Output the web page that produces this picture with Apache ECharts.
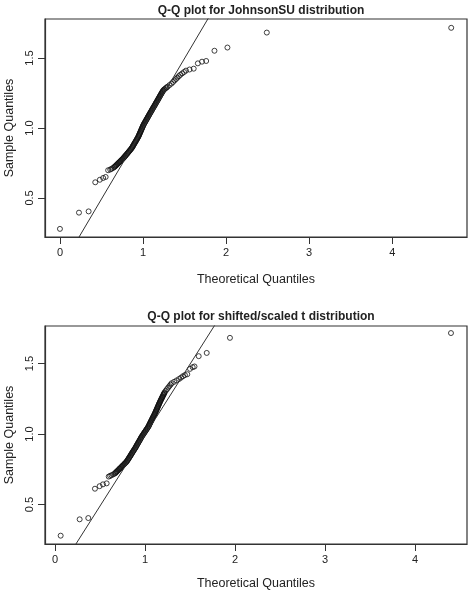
<!DOCTYPE html>
<html>
<head>
<meta charset="utf-8">
<script src="https://cdn.jsdelivr.net/npm/echarts@6/dist/echarts.min.js"></script>
<style>
  html, body { margin: 0; padding: 0; background: #fff; }
  #chart { width: 468px; height: 590px; }
</style>
</head>
<body>
<div id="chart"></div>
<script>
// sample quantiles (sorted data), shared by both plots
const sampleQ = [
  0.279, 0.395, 0.404, 0.612, 0.630, 0.643, 0.650, 0.698, 0.703, 0.708, 0.714,
  0.720, 0.724, 0.728, 0.732, 0.736, 0.740, 0.745, 0.750, 0.754, 0.758,
  0.763, 0.767, 0.772, 0.776, 0.781, 0.785, 0.790, 0.794, 0.799, 0.803,
  0.808, 0.813, 0.818, 0.823, 0.828, 0.833, 0.838, 0.843, 0.848, 0.853,
  0.858, 0.863, 0.868, 0.873, 0.878, 0.883, 0.889, 0.894, 0.900, 0.905,
  0.911, 0.916, 0.922, 0.927, 0.933, 0.938, 0.944, 0.949, 0.955, 0.960,
  0.966, 0.971, 0.977, 0.982, 0.988, 0.993, 0.999, 1.004, 1.010, 1.015,
  1.021, 1.026, 1.032, 1.037, 1.043, 1.048, 1.054, 1.059, 1.065, 1.070,
  1.076, 1.081, 1.087, 1.092, 1.098, 1.103, 1.109, 1.114, 1.120, 1.125,
  1.131, 1.136, 1.142, 1.147, 1.153, 1.158, 1.164, 1.169, 1.175, 1.180,
  1.186, 1.191, 1.197, 1.202, 1.208, 1.213, 1.219, 1.224, 1.230, 1.235,
  1.241, 1.246, 1.252, 1.257, 1.263, 1.268, 1.274, 1.279, 1.285, 1.290,
  1.296,
  1.307, 1.318, 1.329, 1.340, 1.350, 1.360, 1.370, 1.380, 1.390, 1.400, 1.410,
  1.418, 1.424, 1.462, 1.474, 1.479, 1.552, 1.575, 1.682, 1.716
]

// theoretical quantiles, JohnsonSU fit
const johnsonQ = [
  0.000, 0.229, 0.345, 0.425, 0.480, 0.520, 0.550, 0.580, 0.605, 0.620, 0.638,
  0.653, 0.660, 0.667, 0.674, 0.681, 0.688, 0.696, 0.704, 0.712, 0.719,
  0.727, 0.734, 0.742, 0.750, 0.758, 0.764, 0.771, 0.777, 0.784, 0.790,
  0.797, 0.804, 0.811, 0.818, 0.825, 0.832, 0.839, 0.846, 0.853, 0.859,
  0.866, 0.871, 0.876, 0.880, 0.885, 0.890, 0.896, 0.901, 0.907, 0.912,
  0.918, 0.923, 0.928, 0.933, 0.939, 0.944, 0.948, 0.952, 0.956, 0.960,
  0.964, 0.968, 0.972, 0.976, 0.980, 0.984, 0.988, 0.992, 0.996, 1.000,
  1.004, 1.009, 1.014, 1.019, 1.025, 1.030, 1.035, 1.040, 1.046, 1.051,
  1.056, 1.061, 1.067, 1.072, 1.077, 1.082, 1.088, 1.093, 1.099, 1.104,
  1.109, 1.114, 1.120, 1.125, 1.131, 1.136, 1.142, 1.147, 1.152, 1.157,
  1.163, 1.168, 1.174, 1.179, 1.184, 1.189, 1.195, 1.200, 1.205, 1.210,
  1.216, 1.221, 1.227, 1.232, 1.237, 1.244, 1.251, 1.262, 1.274, 1.285,
  1.297,
  1.320, 1.343, 1.362, 1.380, 1.397, 1.414, 1.431, 1.448, 1.471, 1.494, 1.517,
  1.560, 1.610, 1.660, 1.710, 1.760, 1.860, 2.016, 2.490, 4.710
]

// theoretical quantiles, shifted/scaled t fit
const tQ = [
  0.063, 0.274, 0.370, 0.444, 0.496, 0.533, 0.574, 0.597, 0.612, 0.628, 0.648,
  0.665, 0.671, 0.677, 0.683, 0.690, 0.697, 0.704, 0.711, 0.718, 0.725,
  0.732, 0.739, 0.746, 0.753, 0.760, 0.767, 0.774, 0.781, 0.788, 0.794,
  0.800, 0.805, 0.810, 0.815, 0.820, 0.825, 0.830, 0.835, 0.840, 0.845,
  0.849, 0.854, 0.859, 0.864, 0.869, 0.874, 0.880, 0.885, 0.891, 0.896,
  0.901, 0.905, 0.910, 0.915, 0.920, 0.925, 0.930, 0.935, 0.940, 0.945,
  0.950, 0.954, 0.959, 0.964, 0.970, 0.976, 0.982, 0.987, 0.993, 0.999,
  1.005, 1.010, 1.016, 1.022, 1.028, 1.033, 1.039, 1.043, 1.047, 1.051,
  1.056, 1.060, 1.064, 1.068, 1.073, 1.077, 1.081, 1.085, 1.090, 1.094,
  1.099, 1.103, 1.107, 1.111, 1.115, 1.119, 1.123, 1.126, 1.130, 1.134,
  1.138, 1.141, 1.145, 1.149, 1.153, 1.156, 1.160, 1.164, 1.168, 1.172,
  1.176, 1.180, 1.185, 1.189, 1.193, 1.197, 1.202, 1.206, 1.210, 1.214,
  1.219,
  1.231, 1.244, 1.258, 1.271, 1.284, 1.296, 1.323, 1.351, 1.378, 1.401, 1.422,
  1.444, 1.470, 1.500, 1.530, 1.550, 1.597, 1.686, 1.944, 4.400
]

const xTicks = [0, 1, 2, 3, 4]
const yTicks = [0.5, 1.0, 1.5]

// qqline: slope / intercept
const lineTop = { slope: 1.005, intercept: -0.010 }
const lineBot = { slope: 1.006, intercept: -0.014 }

const titles = ['Q-Q plot for JohnsonSU distribution', 'Q-Q plot for shifted/scaled t distribution']

const ink = '#222'
const font = 'Liberation Sans, Arial, sans-serif'

function pairs(xs, ys) {
  return xs.map((x, i) => [x, ys[i]])
}
function qqline(l, x0, x1) {
  return [[x0, l.intercept + l.slope * x0], [x1, l.intercept + l.slope * x1]]
}

function xAxis(idx, min, max, gap) {
  return {
    type: 'value', gridIndex: idx, min: min, max: max,
    name: 'Theoretical Quantiles', nameLocation: 'middle', nameGap: gap,
    nameTextStyle: { color: ink, fontSize: 12.5, fontFamily: font },
    axisLine: { show: true, onZero: false, lineStyle: { color: '#333', width: 1.2 } },
    splitLine: { show: false },
    axisTick: { show: true, inside: false, length: 7, customValues: xTicks, lineStyle: { color: '#333', width: 1 } },
    axisLabel: { customValues: xTicks, color: ink, fontSize: 11, fontFamily: font, margin: 10 }
  }
}
function yAxis(idx, min, max) {
  return {
    type: 'value', gridIndex: idx, min: min, max: max,
    name: 'Sample Quantiles', nameLocation: 'middle', nameGap: 29,
    nameTextStyle: { color: ink, fontSize: 12.5, fontFamily: font },
    axisLine: { show: true, onZero: false, lineStyle: { color: '#333', width: 1.2 } },
    splitLine: { show: false },
    axisTick: { show: true, inside: false, length: 7, customValues: yTicks, lineStyle: { color: '#333', width: 1 } },
    axisLabel: {
      customValues: yTicks, rotate: 90, color: ink, fontSize: 11, fontFamily: font, margin: 10,
      formatter: v => v.toFixed(1)
    }
  }
}

const points = { color: 'rgba(0,0,0,0)', borderColor: '#111', borderWidth: 1 }

const chart = echarts.init(document.getElementById('chart'), null, { renderer: 'canvas' })
chart.setOption({
  animation: false,
  backgroundColor: '#fff',
  title: [
    { text: titles[0], left: 256, textAlign: 'center', top: 0,
      textStyle: { fontSize: 12, fontWeight: 'bold', color: ink, fontFamily: font } },
    { text: titles[1], left: 256, textAlign: 'center', top: 306,
      textStyle: { fontSize: 12, fontWeight: 'bold', color: ink, fontFamily: font } }
  ],
  grid: [
    { left: 45, right: 1, top: 19, height: 218, show: true, outerBoundsMode: 'none', containLabel: false,
      borderColor: '#333', borderWidth: 1.2, backgroundColor: '#fff' },
    { left: 45, right: 1, top: 326, height: 218, show: true, outerBoundsMode: 'none', containLabel: false,
      borderColor: '#333', borderWidth: 1.2, backgroundColor: '#fff' }
  ],
  xAxis: [xAxis(0, -0.18, 4.9, 36), xAxis(1, -0.111, 4.578, 33)],
  yAxis: [yAxis(0, 0.221, 1.779), yAxis(1, 0.22, 1.766)],
  series: [
    { type: 'scatter', xAxisIndex: 0, yAxisIndex: 0, symbol: 'circle', symbolSize: 5,
      itemStyle: points, data: pairs(johnsonQ, sampleQ) },
    { type: 'line', xAxisIndex: 0, yAxisIndex: 0, symbol: 'none', clip: true,
      lineStyle: { color: '#333', width: 1 }, data: qqline(lineTop, -0.2, 5) },
    { type: 'scatter', xAxisIndex: 1, yAxisIndex: 1, symbol: 'circle', symbolSize: 5,
      itemStyle: points, data: pairs(tQ, sampleQ) },
    { type: 'line', xAxisIndex: 1, yAxisIndex: 1, symbol: 'none', clip: true,
      lineStyle: { color: '#333', width: 1 }, data: qqline(lineBot, -0.2, 5) }
  ]
})
</script>
</body>
</html>
